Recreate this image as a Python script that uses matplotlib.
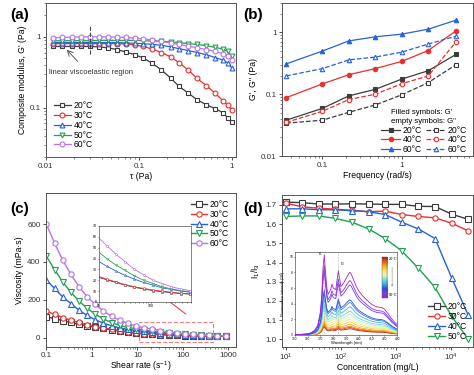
import numpy as np
import matplotlib
matplotlib.use("Agg")
import matplotlib.pyplot as plt
from matplotlib.patches import Rectangle
from matplotlib.colors import LinearSegmentedColormap
from matplotlib.ticker import NullFormatter

plt.rcParams['font.family'] = ['Liberation Sans', 'DejaVu Sans']
plt.rcParams['axes.linewidth'] = 0.7
plt.rcParams['axes.edgecolor'] = '#555555'
plt.rcParams['mathtext.default'] = 'regular'
plt.rcParams['xtick.direction'] = 'out'
plt.rcParams['ytick.direction'] = 'out'

# -------------------------------
# Data
# -------------------------------
temps5 = ['20°C', '30°C', '40°C', '50°C', '60°C']
colors5 = ['#3c3c3c', '#e8302d', '#2563d6', '#23a050', '#b873e6']
markers5 = ['s', 'o', '^', 'v', 'o']

# (a) amplitude sweep
tau = [0.012, 0.015, 0.019, 0.024, 0.030, 0.037, 0.046, 0.058, 0.072, 0.090, 0.112,
       0.14, 0.175, 0.22, 0.27, 0.34, 0.42, 0.53, 0.66, 0.8, 0.9, 1.0]
g_20 = [0.73, 0.73, 0.73, 0.73, 0.73, 0.72, 0.70, 0.66, 0.61, 0.56, 0.50,
        0.42, 0.34, 0.26, 0.20, 0.16, 0.13, 0.11, 0.097, 0.085, 0.072, 0.062]
g_30 = [0.80, 0.80, 0.80, 0.80, 0.80, 0.80, 0.80, 0.80, 0.79, 0.77, 0.73,
        0.67, 0.60, 0.52, 0.43, 0.34, 0.26, 0.205, 0.16, 0.125, 0.11, 0.092]
g_40 = [0.83, 0.83, 0.83, 0.83, 0.83, 0.83, 0.83, 0.83, 0.82, 0.81, 0.80,
        0.78, 0.76, 0.72, 0.68, 0.64, 0.60, 0.56, 0.51, 0.47, 0.43, 0.36]
g_50 = [0.88, 0.88, 0.88, 0.88, 0.88, 0.89, 0.89, 0.89, 0.89, 0.89, 0.88,
        0.87, 0.86, 0.85, 0.83, 0.80, 0.78, 0.75, 0.71, 0.67, 0.62, 0.53]
g_60 = [0.97, 0.98, 0.99, 1.0, 1.0, 1.0, 1.0, 0.99, 0.98, 0.96, 0.93,
        0.90, 0.86, 0.82, 0.78, 0.74, 0.70, 0.66, 0.62, 0.58, 0.54, 0.47]
g_all = [g_20, g_30, g_40, g_50, g_60]

# (b) frequency sweep
freq = [0.035, 0.1, 0.215, 0.464, 1.0, 2.15, 4.8]
temps3 = ['20°C', '40°C', '60°C']
colors3 = ['#3c3c3c', '#e8302d', '#2563d6']
markers3 = ['s', 'o', '^']
gp_20 = [0.038, 0.059, 0.094, 0.12, 0.176, 0.24, 0.44]
gp_40 = [0.088, 0.147, 0.207, 0.26, 0.34, 0.51, 1.06]
gp_60 = [0.31, 0.50, 0.73, 0.85, 0.94, 1.13, 1.58]
gpp_20 = [0.034, 0.038, 0.051, 0.067, 0.098, 0.154, 0.30]
gpp_40 = [0.035, 0.053, 0.082, 0.10, 0.148, 0.198, 0.70]
gpp_60 = [0.198, 0.26, 0.36, 0.40, 0.48, 0.65, 0.87]

# (c) flow curves
shear = [0.1, 0.151, 0.228, 0.344, 0.52, 0.785, 1.19, 1.79, 2.70, 4.08, 6.17, 9.3,
         14.1, 21.2, 32.1, 48.5, 73.2, 111, 167, 252, 381, 575, 869]
v_20 = [110, 100, 90, 80, 70, 62, 55, 48, 41, 35, 29, 23,
        20.5, 18, 15.5, 13.5, 12, 10.5, 9.5, 8.5, 7.8, 7.2, 6.8]
v_30 = [140, 122, 106, 92, 80, 68, 58, 50, 43, 37, 31, 24,
        21, 18.5, 16, 14, 12.5, 11, 10, 9, 8, 7.5, 7]
v_40 = [305, 260, 215, 180, 145, 117, 94, 76, 62, 51, 43, 38,
        33, 28.5, 24.5, 21, 18, 15.5, 13, 11.5, 10, 9, 8]
v_50 = [430, 360, 295, 240, 193, 155, 123, 98, 79, 64, 53, 47,
        40, 34, 29, 24, 20, 17, 14, 12, 10.5, 9.5, 8.5]
v_60 = [600, 500, 410, 335, 270, 215, 175, 140, 112, 92, 75, 60,
        52, 44, 37, 30, 25, 20, 17, 14, 12, 10.5, 9]
v_all = [v_20, v_30, v_40, v_50, v_60]

# (d) I1/I3 vs concentration
conc = [10, 20, 40, 80, 160, 320, 640, 1280, 2560, 5120, 10240, 20480]
temps4 = ['20°C', '30°C', '40°C', '50°C']
r_20 = [1.715, 1.712, 1.705, 1.705, 1.706, 1.705, 1.703, 1.703, 1.693, 1.692, 1.652, 1.625]
r_30 = [1.71, 1.69, 1.683, 1.678, 1.672, 1.665, 1.668, 1.650, 1.640, 1.633, 1.605, 1.565]
r_40 = [1.68, 1.68, 1.675, 1.675, 1.670, 1.665, 1.65, 1.61, 1.575, 1.525, 1.32, 1.125]
r_50 = [1.64, 1.643, 1.643, 1.63, 1.61, 1.575, 1.525, 1.46, 1.37, 1.27, 1.12, 1.00]
r_all = [r_20, r_30, r_40, r_50]

# (d) inset: pyrene emission spectra
wl = [350, 355, 360, 363, 366, 368, 370, 371, 372, 373, 374, 375, 376, 378, 379, 380,
      382, 383, 384, 385, 386, 388, 390, 392, 393, 394, 396, 398, 400, 403, 406, 410,
      414, 418, 420, 422, 426, 430]
spec_top = [0.05, 0.08, 0.15, 0.3, 0.7, 1.3, 3.0, 5.0, 8.5, 10.2, 8.0, 6.0, 5.2, 5.8, 6.5, 6.0,
            5.8, 7.0, 8.2, 7.2, 6.2, 6.6, 7.2, 7.8, 8.0, 7.8, 7.0, 6.2, 5.6, 5.0, 4.5, 3.9,
            3.6, 3.5, 3.3, 2.9, 2.0, 1.3]
spec_scale = [1.0, 0.87, 0.8, 0.56, 0.52, 0.45, 0.38, 0.33, 0.29, 0.25, 0.21, 0.17, 0.14, 0.12, 0.1]

# -------------------------------
# Helpers
# -------------------------------
FS_TICK = 5.8
FS_LAB = 6.2
FS_LEG = 6.2

def curve(ax, x, y, c, m, ls='-', filled=False, label=None, ms=3.5, lw=0.9, mew=0.8):
    ax.plot(x, y, linestyle=ls, color=c, marker=m, ms=ms, mfc=c if filled else 'white',
            mec=c, mew=mew, lw=lw, label=label)

def style(ax):
    ax.tick_params(which='major', labelsize=FS_TICK, length=2.5, width=0.6, pad=1.5, colors='#333333')
    ax.tick_params(which='minor', length=1.5, width=0.5, colors='#555555')

fig = plt.figure(figsize=(4.74, 3.75), dpi=100)

# -------------------------------
# (a)
# -------------------------------
ax = fig.add_axes([0.097, 0.581, 0.401, 0.411])
for g, t, c, m in zip(g_all, temps5, colors5, markers5):
    curve(ax, tau, g, c, m, label=t)
ax.set_xscale('log')
ax.set_yscale('log')
ax.set_xlim(0.01, 1.11)
ax.set_ylim(0.02, 3)
ax.set_xticks([0.01, 0.1, 1], labels=['0.01', '0.1', '1'])
ax.set_yticks([0.1, 1], labels=['0.1', '1'])
ax.xaxis.set_minor_formatter(NullFormatter())
ax.yaxis.set_minor_formatter(NullFormatter())
style(ax)
ax.set_xlabel('τ (Pa)', fontsize=FS_LAB, labelpad=2)
ax.set_ylabel("Composite modulus, G' (Pa)", fontsize=FS_LAB, labelpad=2)
ax.plot([0.03, 0.03], [0.57, 1.43], '--', color='#444444', lw=0.8)
ax.text(0.0108, 0.313, 'linear viscoelastic region', fontsize=5.5, va='center', color='#333333')
ax.annotate('', xy=(0.016, 0.70), xytext=(0.023, 0.42),
            arrowprops=dict(arrowstyle='->', color='#444444', lw=0.6))
ax.legend(loc='lower left', bbox_to_anchor=(0.0, 0.0), frameon=False, fontsize=FS_LEG,
          handlelength=2.0, handletextpad=0.3, labelspacing=0.1, borderaxespad=0.5)

# -------------------------------
# (b)
# -------------------------------
ax = fig.add_axes([0.595, 0.584, 0.403, 0.408])
for gp, t, c, m in zip([gp_20, gp_40, gp_60], temps3, colors3, markers3):
    curve(ax, freq, gp, c, m, filled=True, label=t, ms=3.2)
for gpp, t, c, m in zip([gpp_20, gpp_40, gpp_60], temps3, colors3, markers3):
    curve(ax, freq, gpp, c, m, ls='--', label=t, ms=3.2)
ax.set_xscale('log')
ax.set_yscale('log')
ax.set_xlim(0.031, 7.9)
ax.set_ylim(0.01, 3)
ax.set_xticks([0.1, 1], labels=['0.1', '1'])
ax.set_yticks([0.01, 0.1, 1], labels=['0.01', '0.1', '1'])
ax.xaxis.set_minor_formatter(NullFormatter())
ax.yaxis.set_minor_formatter(NullFormatter())
style(ax)
ax.set_xlabel('Frequency (rad/s)', fontsize=FS_LAB, labelpad=2)
ax.set_ylabel("G', G'' (Pa)", fontsize=FS_LAB, labelpad=2)
ax.text(0.57, 0.285, "Filled symbols: G'", transform=ax.transAxes, fontsize=5.6, va='center')
ax.text(0.57, 0.225, "empty symbols: G''", transform=ax.transAxes, fontsize=5.6, va='center')
ax.legend(ncol=2, loc='lower right', bbox_to_anchor=(1.01, -0.035), frameon=False, fontsize=FS_LEG,
          handlelength=2.2, handletextpad=0.3, labelspacing=0.05, columnspacing=0.5)

# -------------------------------
# (c)
# -------------------------------
ax = fig.add_axes([0.097, 0.0747, 0.401, 0.4107])
for v, t, c, m in zip(v_all, temps5, colors5, markers5):
    curve(ax, shear, v, c, m, label=t, ms=3.8, lw=1.0)
ax.set_xscale('log')
ax.set_xlim(0.098, 1470)
ax.set_ylim(-50, 765)
ax.set_xticks([0.1, 1, 10, 100, 1000], labels=['0.1', '1', '10', '100', '1000'])
ax.set_yticks([0, 200, 400, 600])
ax.xaxis.set_minor_formatter(NullFormatter())
style(ax)
ax.tick_params(axis='x', pad=1)
ax.set_xlabel('Shear rate (s$^{-1}$)', fontsize=FS_LAB, labelpad=0)
ax.set_ylabel('Viscosity (mPa·s)', fontsize=FS_LAB, labelpad=2)
ax.add_patch(Rectangle((11, -26), 460 - 11, 110, fill=False, ec='#f08080', ls='--', lw=0.8))
ax.annotate('', xy=(35, 220), xytext=(130, 115),
            arrowprops=dict(arrowstyle='-|>', color='#e03030', lw=0.7, mutation_scale=6))
ax.legend(loc='upper right', bbox_to_anchor=(1.0, 1.0), frameon=False, fontsize=FS_LEG,
          handlelength=1.9, handletextpad=0.3, labelspacing=0.1, borderaxespad=0.4)

# inset of (c)
ins = fig.add_axes([0.2089, 0.1947, 0.194, 0.2027])
for v, c, m in zip(v_all, colors5, markers5):
    xs = [s for s in shear if s >= 9]
    ys = v[len(shear) - len(xs):]
    curve(ins, xs, ys, c, m, ms=1.5, lw=0.6, mew=0.4)
ins.set_xscale('log')
ins.set_xlim(10, 600)
ins.set_ylim(0, 70)
ins.set_xticks([10, 100], labels=['10', '100'])
ins.set_yticks(range(0, 71, 10))
ins.xaxis.set_minor_formatter(NullFormatter())
ins.tick_params(which='both', labelsize=2.5, length=1, width=0.4, pad=0.8)
for s in ins.spines.values():
    s.set_linewidth(0.5)

# -------------------------------
# (d)
# -------------------------------
ax = fig.add_axes([0.595, 0.0747, 0.403, 0.4053])
for r, t, c, m in zip(r_all, temps4, colors5, markers5):
    curve(ax, conc, r, c, m, label=t, ms=3.8, lw=1.0)
ax.set_xscale('log')
ax.set_xlim(8.6, 25000)
ax.set_ylim(0.96, 1.752)
ax.set_yticks([1.0, 1.1, 1.2, 1.3, 1.4, 1.5, 1.6, 1.7])
ax.yaxis.set_major_formatter(plt.FormatStrFormatter('%.1f'))
ax.xaxis.set_minor_formatter(NullFormatter())
style(ax)
ax.tick_params(axis='x', pad=1)
ax.set_xlabel('Concentration (mg/L)', fontsize=FS_LAB, labelpad=0)
ax.set_ylabel('I$_1$/I$_3$', fontsize=FS_LAB, labelpad=2)
ax.legend(loc='lower right', bbox_to_anchor=(1.0, 0.0), frameon=False, fontsize=FS_LEG,
          handlelength=2.0, handletextpad=0.3, labelspacing=0.1, borderaxespad=0.3)

# inset of (d)
ins = fig.add_axes([0.622, 0.1067, 0.216, 0.2213])
cmap = LinearSegmentedColormap.from_list('temp', ['#a51fd8', '#7b3ff0', '#2a4de0', '#3fa8f0',
                                                  '#6fe0e0', '#e8f5c0', '#f6e860', '#f5b020',
                                                  '#e86010', '#b02008'])
n = len(spec_scale)
for i, k in enumerate(spec_scale[::-1]):
    ins.plot(wl, np.array(spec_top) * k, color=cmap(1 - i / (n - 1)), lw=0.6)
ins.axvline(373, color='#777777', ls=':', lw=0.4)
ins.axvline(384, color='#777777', ls=':', lw=0.4)
ins.text(371.5, 10.3, 'I$_1$', fontsize=3, ha='right', va='center')
ins.text(385, 9.0, 'I$_3$', fontsize=3, ha='left', va='center')
ins.set_xlim(350, 430)
ins.set_ylim(0, 10.6)
ins.set_xticks(range(350, 431, 10))
ins.set_yticks(range(0, 11, 2))
ins.tick_params(which='both', labelsize=2.3, length=0.8, width=0.4, pad=0.5)
ins.set_xlabel('Wavelength (nm)', fontsize=3, labelpad=0.3)
ins.set_ylabel('Fluorescence intensity (10$^5$)', fontsize=2.6, labelpad=0.3)
for s in ins.spines.values():
    s.set_linewidth(0.5)

cb = ins.inset_axes([0.848, 0.446, 0.057, 0.494])
cb.imshow(np.linspace(0, 1, 100).reshape(-1, 1), aspect='auto', cmap=cmap.reversed())
cb.set_xticks([])
cb.set_yticks([])
for s in cb.spines.values():
    s.set_linewidth(0.3)
ins.text(0.92, 0.92, '20°C', transform=ins.transAxes, fontsize=2.8, ha='left', va='center')
ins.text(0.92, 0.48, '50°C', transform=ins.transAxes, fontsize=2.8, ha='left', va='center')
ins.annotate('', xy=(0.95, 0.55), xytext=(0.95, 0.85), xycoords='axes fraction',
             arrowprops=dict(arrowstyle='->', color='#666666', lw=0.3, mutation_scale=3))

# panel labels
for lab, x, y in [('(a)', 0.021, 0.96), ('(b)', 0.513, 0.96), ('(c)', 0.021, 0.443), ('(d)', 0.513, 0.443)]:
    fig.text(x, y, lab, fontsize=11, fontweight='bold', va='center', ha='left')

fig.savefig('out.png', dpi=100)
